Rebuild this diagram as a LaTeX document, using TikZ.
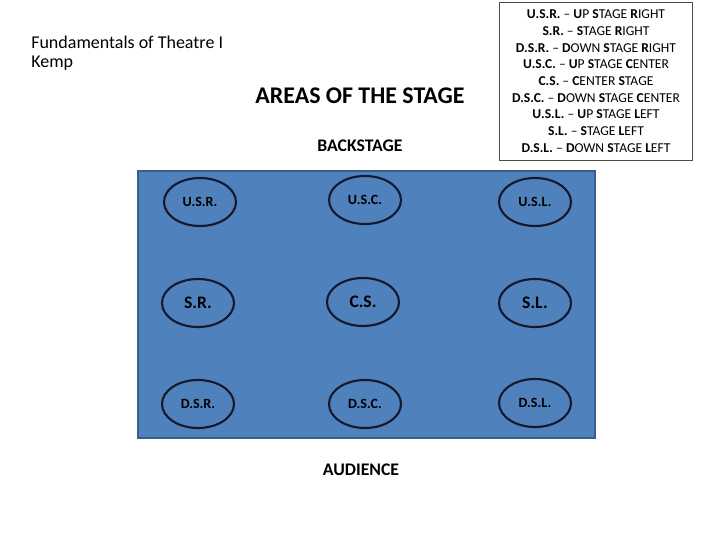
\documentclass[tikz,border=0pt]{standalone}
\usepackage{fontspec}
\setmainfont{Carlito}
\usetikzlibrary{shapes.geometric}

\definecolor{stageblue}{HTML}{4F81BD}
\definecolor{stageline}{HTML}{385D8A}
\definecolor{ringline}{HTML}{15192B}

\newcommand{\ab}[1]{\textbf{#1}}

\tikzset{
  area/.style={ellipse, draw=ringline, line width=1.5pt, minimum width=1.8cm, minimum height=1.2cm, inner sep=0pt, font=\bfseries\fontsize{10}{12}\selectfont},
  bigarea/.style={area, font=\bfseries\fontsize{12.5}{14}\selectfont},
  side/.style={font=\bfseries\fontsize{12.6}{14}\selectfont}
}

\begin{document}
\begin{tikzpicture}

\useasboundingbox (0,0) rectangle (18,-13.5);

%%%%%% Header %%%%%%%

\node (course) at (0.775,-1.05) [anchor=west, inner sep=0pt, font=\fontsize{12.8}{15}\selectfont] {Fundamentals of Theatre I};
\node (kemp) at (0.775,-1.575) [anchor=west, inner sep=0pt, font=\fontsize{12.8}{15}\selectfont] {Kemp};
\node (title) at (9,-2.4) [font=\bfseries\fontsize{17}{20}\selectfont] {AREAS OF THE STAGE};

\node (key) at (14.9,-2.025) [draw=gray!60!black, line width=0.6pt, minimum width=4.825cm, minimum height=3.95cm, align=center, font=\fontsize{9.65}{11.87}\selectfont] {%
\ab{U.S.R.} -- \ab{U}P \ab{S}TAGE \ab{R}IGHT\\
\ab{S.R.} -- \ab{S}TAGE \ab{R}IGHT\\
\ab{D.S.R.} -- \ab{D}OWN \ab{S}TAGE \ab{R}IGHT\\
\ab{U.S.C.} -- \ab{U}P \ab{S}TAGE \ab{C}ENTER\\
\ab{C.S.} -- \ab{C}ENTER \ab{S}TAGE\\
\ab{D.S.C.} -- \ab{D}OWN \ab{S}TAGE \ab{C}ENTER\\
\ab{U.S.L.} -- \ab{U}P \ab{S}TAGE \ab{L}EFT\\
\ab{S.L.} -- \ab{S}TAGE \ab{L}EFT\\
\ab{D.S.L.} -- \ab{D}OWN \ab{S}TAGE \ab{L}EFT};

%%%%%% Stage %%%%%%%

\node (back) at (9,-3.65) [side] {BACKSTAGE};
\draw[fill=stageblue, draw=stageline, line width=1.5pt] (3.45,-4.275) rectangle (14.875,-10.95);
\node (aud) at (9.025,-11.75) [side] {AUDIENCE};

\node (usr) at (5,-5.05) [area] {U.S.R.};
\node (usc) at (9.125,-5) [area] {U.S.C.};
\node (usl) at (13.375,-5.05) [area] {U.S.L.};

\node (sr) at (4.95,-7.575) [bigarea] {S.R.};
\node (cs) at (9.075,-7.55) [bigarea] {C.S.};
\node (sl) at (13.375,-7.575) [bigarea] {S.L.};

\node (dsr) at (4.95,-10.1) [area] {D.S.R.};
\node (dsc) at (9.125,-10.1) [area] {D.S.C.};
\node (dsl) at (13.375,-10.075) [area] {D.S.L.};

\end{tikzpicture}
\end{document}
